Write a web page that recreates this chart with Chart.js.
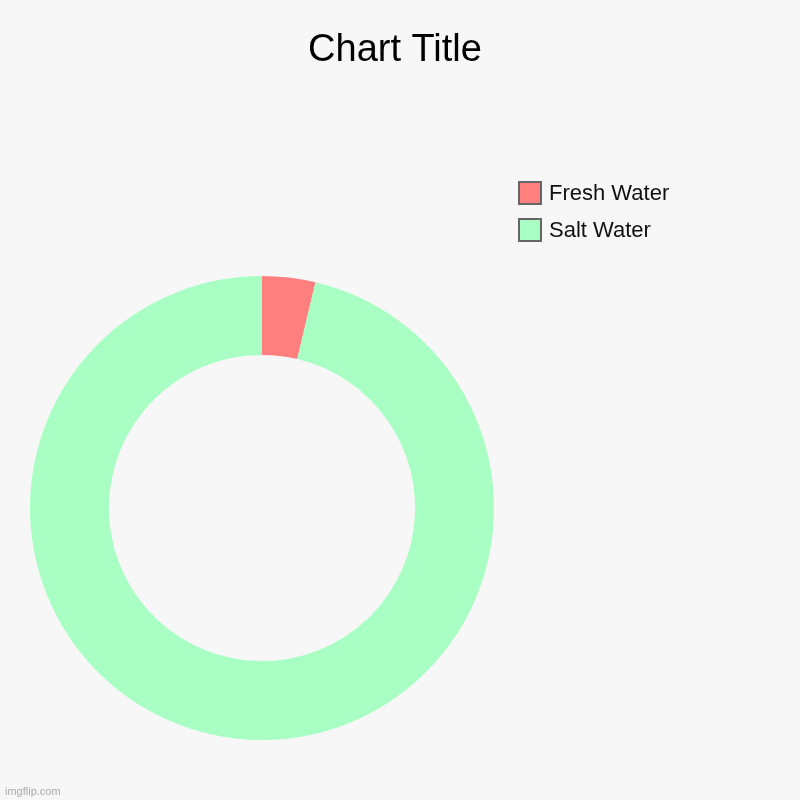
<!DOCTYPE html>
<html>
<head>
<meta charset="utf-8">
<script src="https://cdn.jsdelivr.net/npm/chart.js@4/dist/chart.umd.min.js"></script>
<style>
  html, body { margin: 0; padding: 0; background: #f7f7f7; }
  #wrap { width: 800px; height: 800px; }
</style>
</head>
<body>
<div id="wrap"><canvas id="waterChart" width="800" height="800"></canvas></div>
<script>
const labels = ["Fresh Water", "Salt Water"];
const values = [3.7, 96.3];
const colors = ["#ff7f7f", "#a9ffc3"];
const titleText = "Chart Title";

// title, legend and watermark drawn in fixed spots like the imgflip layout
const decorations = {
    id: 'decorations',
    beforeDraw(chart) {
        const ctx = chart.ctx;
        ctx.save();
        ctx.fillStyle = '#f7f7f7';
        ctx.fillRect(0, 0, chart.width, chart.height);
        ctx.restore();
    },
    afterDraw(chart) {
        const ctx = chart.ctx;
        ctx.save();
        ctx.fillStyle = '#000';
        ctx.font = '38px "Liberation Sans", Arial, sans-serif';
        ctx.textAlign = 'center';
        ctx.textBaseline = 'alphabetic';
        ctx.fillText(titleText, 395, 61);

        ctx.font = '22px "Liberation Sans", Arial, sans-serif';
        ctx.textAlign = 'left';
        labels.forEach((lab, i) => {
            const y = 181 + i * 37;
            ctx.fillStyle = colors[i];
            ctx.fillRect(519, y + 1, 22, 22);
            ctx.strokeStyle = '#666';
            ctx.lineWidth = 2;
            ctx.strokeRect(519, y + 1, 22, 22);
            ctx.fillStyle = '#111';
            ctx.fillText(lab, 549, y + 19);
        });

        ctx.fillStyle = '#aaa';
        ctx.font = '11px "Liberation Sans", Arial, sans-serif';
        ctx.fillText('imgflip.com', 5, 795);
        ctx.restore();
    }
};

new Chart(document.querySelector('#waterChart'), {
    type: 'doughnut',
    data: {
        labels: labels,
        datasets: [
            {
                data: values,
                backgroundColor: colors,
                borderWidth: 0,
            },
        ],
    },
    options: {
        responsive: false,
        animation: false,
        cutout: '66%',
        layout: {
            padding: { left: 30, right: 306, top: 276, bottom: 60 },
        },
        plugins: {
            legend: { display: false },
            title: { display: false },
            tooltip: { enabled: false },
        },
    },
    plugins: [decorations],
});
</script>
</body>
</html>
